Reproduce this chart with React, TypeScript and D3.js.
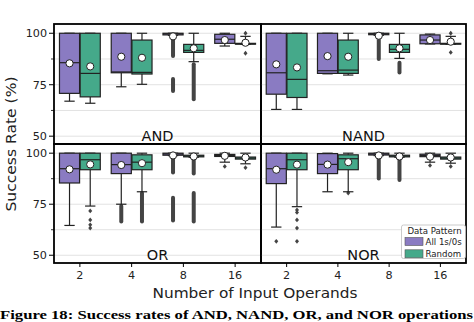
import React from "react";
import * as d3 from "d3";

const operands = ["2", "4", "8", "16"];
const gates = ["AND", "NAND", "OR", "NOR"];
const patterns = ["All 1s/0s", "Random"];
const colors = ["#8a7bc2", "#45a98a"];
const yTicks = [50, 75, 100];
const yMinor = [62.5, 87.5];

// [lowWhisker, q1, median, q3, highWhisker]  indexed [pattern][operand]
const andBoxes = [
  [[67, 70.8, 85.7, 100, 100], [74, 80.8, 81.2, 100, 100], [99, 99.2, 99.7, 100, 100], [93.8, 95.1, 97.1, 99.5, 100]],
  [[66, 69.1, 80.5, 100, 100], [75.2, 80.2, 81, 96.7, 100], [86.2, 90.7, 91.7, 94.6, 100], [94.6, 94.7, 94.9, 95.1, 98.5]],
];
const andMeans = [[85.4, 88.6, 98.5, 96.7], [83.9, 88.1, 92.7, 95.4]];
const andFliers = [[[], [], [], []], [[], [], [], [100, 90.3]]];
const andDense = [[[], [], [[88.5, 98.8], [71.5, 78.3]], []], [[], [], [[67.5, 85.4]], []]];

const nandBoxes = [
  [[63, 70.4, 80.8, 100, 100], [80.3, 80.5, 81.8, 100, 100], [99, 99.3, 99.7, 100, 100], [94.8, 94.9, 96.7, 99.2, 99.6]],
  [[63, 68.8, 77.6, 100, 100], [79.7, 80.5, 82.1, 96.7, 100], [87.8, 90.7, 92.2, 94.6, 100], [94.6, 94.7, 94.9, 95.1, 98.5]],
];
const nandMeans = [[84.9, 88.9, 98.8, 96.7], [83.4, 88.6, 92.7, 95.9]];
const nandFliers = [[[], [], [], []], [[], [], [], [100, 90.7]]];
const nandDense = [[[], [], [[87, 98.8]], []], [[], [], [[80.5, 86.2]], []]];

const orBoxes = [
  [[64.6, 85.4, 92.4, 100, 100], [75, 90, 94.4, 100, 100], [98.8, 99, 99.6, 100, 100], [95.6, 98.4, 98.9, 99.4, 100]],
  [[74.1, 91.9, 96.8, 100, 100], [81.1, 91.9, 95.6, 99.2, 100], [98, 98.2, 98.6, 99, 100], [94.8, 97.1, 97.6, 98.1, 100]],
];
const orMeans = [[92.1, 94.2, 98.9, 98.7], [94.5, 95.1, 98.4, 97.9]];
const orFliers = [[[], [], [], [93.5]], [[71.7, 67.3, 64.9, 63.3], [], [], [92.9]]];
const orDense = [[[], [[66, 74.6]], [[90, 98], [66.5, 78.6]], []], [[], [[66, 81]], [[89.5, 98], [66, 81]], []]];

const norBoxes = [
  [[63.8, 85.1, 92.4, 100, 100], [81.1, 90, 94.5, 99.8, 100], [98.8, 99.1, 99.6, 100, 100], [95.6, 98.3, 98.9, 99.5, 100]],
  [[73.8, 91.9, 96.8, 100, 100], [81.1, 91.9, 97.3, 99.2, 100], [98, 98.2, 98.6, 99, 100], [95.1, 97.1, 97.6, 98.1, 100]],
];
const norMeans = [[91.9, 94.4, 98.9, 98.3], [94.4, 95.6, 98.4, 97.9]];
const norFliers = [[[56.8], [], [], [94]], [[72.2, 71, 67.3, 63.3, 56.8], [80.5], [], [93.5]]];
const norDense = [[[], [], [[87.1, 98.5]], []], [[], [], [[86.4, 97.8]], []]];

const boxesByGate = [andBoxes, nandBoxes, orBoxes, norBoxes];
const meansByGate = [andMeans, nandMeans, orMeans, norMeans];
const fliersByGate = [andFliers, nandFliers, orFliers, norFliers];
const denseByGate = [andDense, nandDense, orDense, norDense];

const W = 474;
const H = 322;
const colX = [[54, 261], [261, 466]];
const rowY = [[24, 144], [144, 263]];
const yDomain = [46.2, 104.5];
const FONT = "DejaVu Sans, sans-serif";
const EDGE = "#222";
const FLIER = "#444";

function Panel({ gi }: { gi: number }) {
  const col = gi % 2;
  const row = Math.floor(gi / 2);
  const [x0, x1] = colX[col];
  const [y0, y1] = rowY[row];
  const x = d3.scaleBand().domain(operands).range([x0, x1]).padding(0);
  const hue = d3.scaleBand().domain(patterns).range([-20.7, 20.7]).padding(0);
  const y = d3.scaleLinear().domain(yDomain).range([y1, y0]);
  const bw = hue.bandwidth();
  const grid = [...yTicks, ...yMinor];
  const elems: any[] = [];
  patterns.forEach((p, pi) => {
    operands.forEach((op, oi) => {
      const cx = (x(op) as number) + x.bandwidth() / 2 + (hue(p) as number) + bw / 2;
      const [lo, q1, med, q3, hi] = boxesByGate[gi][pi][oi];
      const mean = meansByGate[gi][pi][oi];
      const key = `${pi}-${oi}`;
      const half = bw / 2 - 0.3;
      const cap = bw / 4;
      denseByGate[gi][pi][oi].forEach((r: number[], k: number) => {
        elems.push(
          <rect key={`d${key}-${k}`} x={cx - 2} width={4} y={y(r[1]) - 1} height={y(r[0]) - y(r[1]) + 2} rx={2} fill={FLIER} />
        );
      });
      fliersByGate[gi][pi][oi].forEach((v: number, k: number) => {
        const yy = y(v);
        elems.push(
          <path key={`f${key}-${k}`} d={`M${cx},${yy - 2.4}L${cx + 2},${yy}L${cx},${yy + 2.4}L${cx - 2},${yy}Z`} fill={FLIER} />
        );
      });
      elems.push(
        <g key={`b${key}`}>
          <line x1={cx} x2={cx} y1={y(q1)} y2={y(lo)} stroke={EDGE} strokeWidth={1.2} />
          <line x1={cx} x2={cx} y1={y(q3)} y2={y(hi)} stroke={EDGE} strokeWidth={1.2} />
          <line x1={cx - cap} x2={cx + cap} y1={y(lo)} y2={y(lo)} stroke={EDGE} strokeWidth={1.2} />
          <line x1={cx - cap} x2={cx + cap} y1={y(hi)} y2={y(hi)} stroke={EDGE} strokeWidth={1.2} />
          <rect x={cx - half} width={half * 2} y={y(q3)} height={Math.max(y(q1) - y(q3), 0.5)} fill={colors[pi]} stroke={EDGE} strokeWidth={1.2} />
          <line x1={cx - half} x2={cx + half} y1={y(med)} y2={y(med)} stroke={EDGE} strokeWidth={1.2} />
          <circle cx={cx} cy={y(mean)} r={3.6} fill="#fff" stroke={EDGE} strokeWidth={1} />
        </g>
      );
    });
  });
  return (
    <g>
      {grid.map((t) => (
        <line key={`g${t}`} x1={x0} x2={x1} y1={y(t)} y2={y(t)} stroke="#e2e2e2" strokeWidth={1} />
      ))}
      {elems}
      <text x={(x0 + x1) / 2} y={y1 - 3} textAnchor="middle" fontFamily={FONT} fontSize={14.5} fill="#111">
        {gates[gi]}
      </text>
      <rect x={x0} y={y0} width={x1 - x0} height={y1 - y0} fill="none" stroke="#000" strokeWidth={1.8} />
      {col === 0 &&
        yTicks.map((t) => (
          <g key={`yt${t}`}>
            <line x1={49} x2={x0} y1={y(t)} y2={y(t)} stroke="#000" strokeWidth={1} />
            <text x={47} y={y(t)} dy="0.36em" textAnchor="end" fontFamily={FONT} fontSize={11.2} fill="#222">
              {t}
            </text>
          </g>
        ))}
      {col === 0 &&
        yMinor.map((t) => <line key={`ym${t}`} x1={51} x2={x0} y1={y(t)} y2={y(t)} stroke="#000" strokeWidth={0.8} />)}
      {row === 1 &&
        operands.map((op) => {
          const cx = (x(op) as number) + x.bandwidth() / 2;
          return (
            <g key={`xt${op}`}>
              <line x1={cx} x2={cx} y1={y1} y2={y1 + 4} stroke="#000" strokeWidth={1} />
              <text x={cx} y={279.3} textAnchor="middle" fontFamily={FONT} fontSize={11.2} fill="#222">
                {op}
              </text>
            </g>
          );
        })}
    </g>
  );
}

function Legend() {
  const lx = 401.5;
  const ly = 225;
  return (
    <g>
      <rect x={lx} y={ly} width={64} height={33.5} rx={2} fill="#fff" fillOpacity={0.92} stroke="#bdbdbd" strokeWidth={0.8} />
      <text x={lx + 33} y={ly + 9} textAnchor="middle" fontFamily={FONT} fontSize={8.6} fill="#222">
        Data Pattern
      </text>
      {patterns.map((p, i) => (
        <g key={p}>
          <rect x={lx + 3.5} y={ly + 12.5 + i * 12.3} width={18} height={8} fill={colors[i]} stroke="#555" strokeWidth={0.6} />
          <text x={lx + 24} y={ly + 19.8 + i * 12.3} fontFamily={FONT} fontSize={8.6} fill="#222">
            {p}
          </text>
        </g>
      ))}
    </g>
  );
}

export default function App() {
  return (
    <svg width={W} height={H} style={{ position: "absolute", left: 0, top: 0, background: "#fff" }}>
      <rect x={0} y={0} width={W} height={H} fill="#fff" />
      {gates.map((g, gi) => (
        <Panel key={g} gi={gi} />
      ))}
      <Legend />
      <text
        transform="translate(11,144) rotate(-90)"
        textAnchor="middle"
        dy="0.35em"
        fontFamily={FONT}
        fontSize={14.5}
        fill="#222"
        textLength={135}
        lengthAdjust="spacingAndGlyphs"
      >
        Success Rate (%)
      </text>
      <text x={255} y={297.5} textAnchor="middle" fontFamily={FONT} fontSize={14} fill="#222" textLength={205} lengthAdjust="spacingAndGlyphs">
        Number of Input Operands
      </text>
      <text
        x={0}
        y={318.5}
        fontFamily="Liberation Serif, Times New Roman, serif"
        fontWeight="bold"
        fontSize={13.5}
        fill="#000"
        textLength={473}
        lengthAdjust="spacingAndGlyphs"
      >
        Figure 18: Success rates of AND, NAND, OR, and NOR operations
      </text>
    </svg>
  );
}
